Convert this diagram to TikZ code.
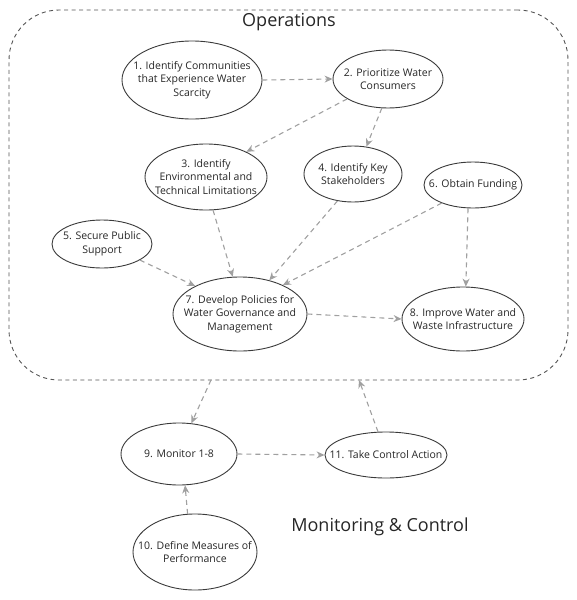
\documentclass[tikz,border=0pt]{standalone}
\usepackage{fontspec}
\setmainfont{Open Sans}
\usetikzlibrary{shapes.geometric,arrows.meta}
\definecolor{arrowgray}{HTML}{A0A0A0}
\definecolor{edgegray}{HTML}{3A3A3A}
\definecolor{boxgray}{HTML}{555555}
\begin{document}
\begin{tikzpicture}[x=1pt,y=-1pt,
  stepnode/.style={ellipse,draw=edgegray,line width=0.9pt,inner sep=0pt},
  steptext/.style={align=center,inner sep=0pt,font=\fontsize{10.5}{13.5}\selectfont,text=black!85},
  flow/.style={draw=arrowgray,line width=1.1pt,dash pattern=on 5pt off 4pt,
    -{Stealth[length=8pt,width=7pt]}},
  titletext/.style={font=\fontsize{18}{21}\selectfont,text=black!85}]
\useasboundingbox (0,0) rectangle (577,600);
\node[draw=boxgray,dash pattern=on 4pt off 3.5pt,rounded corners=50pt,
  minimum width=559pt,minimum height=370pt,line width=0.9pt] (ops) at (288.5,195) {};
\node[titletext] (optitle) at (289,22) {Operations};
\node[titletext] (mctitle) at (380,527) {Monitoring \& Control};

\node[stepnode,minimum width=140pt,minimum height=78pt,
  label={[steptext]center:{1. Identify Communities\\that Experience Water\\Scarcity}}] (n1) at (192,80) {};
\node[stepnode,minimum width=110pt,minimum height=58pt,
  label={[steptext]center:{2. Prioritize Water\\Consumers}}] (n2) at (388,79) {};
\node[stepnode,minimum width=122pt,minimum height=66pt,
  label={[steptext]center:{3. Identify\\Environmental and\\Technical Limitations}}] (n3) at (206,177) {};
\node[stepnode,minimum width=98pt,minimum height=56pt,
  label={[steptext]center:{4. Identify Key\\Stakeholders}}] (n4) at (353,174) {};
\node[stepnode,minimum width=98pt,minimum height=46pt,
  label={[steptext]center:{6. Obtain Funding}}] (n6) at (473,185) {};
\node[stepnode,minimum width=100pt,minimum height=48pt,
  label={[steptext]center:{5. Secure Public\\Support}}] (n5) at (102,244) {};
\node[stepnode,minimum width=134pt,minimum height=74pt,
  label={[steptext]center:{7. Develop Policies for\\Water Governance and\\Management}}] (n7) at (240,314) {};
\node[stepnode,minimum width=122pt,minimum height=64pt,
  label={[steptext]center:{8. Improve Water and\\Waste Infrastructure}}] (n8) at (463,319) {};
\node[stepnode,minimum width=116pt,minimum height=62pt,
  label={[steptext]center:{9. Monitor 1-8}}] (n9) at (179,454) {};
\node[stepnode,minimum width=122pt,minimum height=46pt,
  label={[steptext]center:{11. Take Control Action}}] (n11) at (386,455) {};
\node[stepnode,minimum width=124pt,minimum height=76pt,
  label={[steptext]center:{10. Define Measures of\\Performance}}] (n10) at (195,552) {};

\coordinate (opsA) at (211,380);
\coordinate (opsB) at (359,380);

\draw[flow] (n1.east) -- (n2.west);
\draw[flow] (n2.206) -- (n3.32);
\draw[flow] (n2.258) -- (n4.64);
\draw[flow] (n3.282) -- (n7.101);
\draw[flow] (n4.240) -- (n7.49);
\draw[flow] (n6.210) -- (n7.34);
\draw[flow] (n6.258) -- (n8.85);
\draw[flow] (n5.337) -- (n7.148);
\draw[flow] (n7.east) -- (n8.west);
\draw[flow] (opsA) -- (n9.68);
\draw[flow] (n11.109) -- (opsB);
\draw[flow] (n9.east) -- (n11.west);
\draw[flow] (n10.101) -- (n9.281);
\end{tikzpicture}
\end{document}
